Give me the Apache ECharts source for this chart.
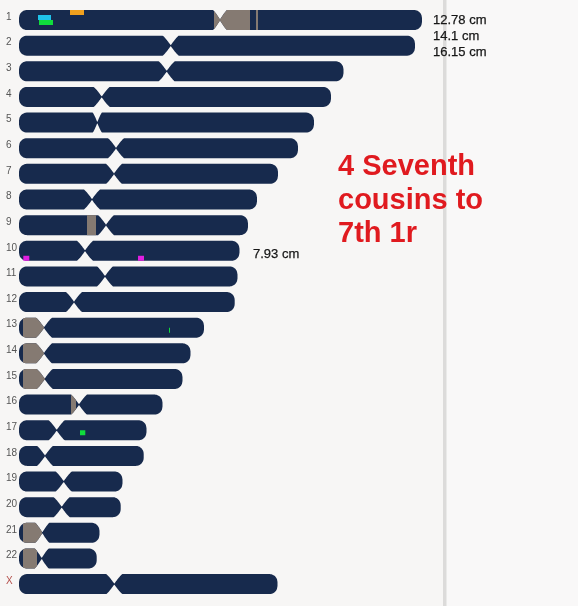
<!DOCTYPE html>
<html>
<head>
<meta charset="utf-8">
<title>Seventh cousins</title>
<script src="https://cdn.jsdelivr.net/npm/echarts@6/dist/echarts.min.js"></script>
<style>
  html, body { margin: 0; padding: 0; background: #f7f6f5; }
  #chart_container { width: 578px; height: 606px; }
</style>
</head>
<body>
<div id="chart_container"></div>
<script>
"use strict";

// chromosome table (x unit = 1 px from the p-end)
const chromosomes = ['1','2','3','4','5','6','7','8','9','10','11','12','13','14','15','16','17','18','19','20','21','22','X'];
const lengths     = [403,396,324.5,312,295,279,259,238,229,220.5,218.5,215.7,185,171.5,163.5,143.5,127.5,124.7,103.5,101.7,80.5,77.7,258.5];
const centromeres = [201,151.7,147.7,82.7,78.3,97,95,73,87,66,86,55,25,25,25.7,60,37.7,26,44.7,42.7,23.3,22.7,95.3];
const pinchWidths = [7,8,8,8,4.5,8,8,8,8,8,8,8,8,8,8,8,8,8,8,8,7,7,8];

// grey heterochromatin: [chromosome index, start, end]
const greyBands = [[0,195,231],[0,237,239],[8,68,77],[12,4,25],[13,4,25],[14,4,26],[15,52,57],[20,4,23],[21,4,18]];

// matched segments per cousin: [chromosome index, start, end, lane]
const blueSegments    = [[0,19,32,1]];
const greenSegments   = [[0,20,34,2],[12,150,151,2],[16,61,66.3,2]];
const orangeSegments  = [[0,51,65,0]];
const magentaSegments = [[9,4.3,10.3,3],[9,119,125,3]];

const cmLabels = [['12.78 cm',433,20],['14.1 cm',433,36],['16.15 cm',433,52],['7.93 cm',253,254]];
const noteLines = ['4 Seventh','cousins to','7th 1r'];

const HALF = 10;
const CAP = 8;
const WAIST = 0.4;

// half height of the chromosome body at position x
function halfHeight(row, x) {
    let len = lengths[row];
    let h = HALF;
    let edge = Math.min(x, len - x);
    if (edge < CAP) {
        let d = CAP - edge;
        h = HALF - CAP + Math.sqrt(Math.max(0, CAP * CAP - d * d));
    }
    let w = pinchWidths[row];
    let t = Math.abs(x - centromeres[row]) / w;
    if (t < 1) {
        // straight arm from the waist, eased into the shoulder
        h = Math.min(h, WAIST + (HALF - WAIST) * t * (1.15 - 0.15 * t * t));
    }
    return h;
}

function outline(api, row, from, to) {
    let top = [];
    let bottom = [];
    for (let x = from; x < to; x += 0.5) {
        let p = api.coord([x, row]);
        let h = halfHeight(row, x);
        top.push([p[0], p[1] - h]);
        bottom.unshift([p[0], p[1] + h]);
    }
    let p = api.coord([to, row]);
    let h = halfHeight(row, to);
    top.push([p[0], p[1] - h]);
    bottom.unshift([p[0], p[1] + h]);
    return top.concat(bottom);
}

let bodyItem = (params, api) => ({
    type: 'polygon',
    shape: { points: outline(api, api.value(0), 0, api.value(1)) },
    style: { fill: '#172a4d' }
});

let bandItem = (params, api) => ({
    type: 'polygon',
    shape: { points: outline(api, api.value(0), api.value(1), api.value(2)) },
    style: { fill: '#857a72' }
});

let segmentItem = (color) => (params, api) => {
    let a = api.coord([api.value(1), api.value(0)]);
    let b = api.coord([api.value(2), api.value(0)]);
    return {
        type: 'rect',
        shape: { x: a[0], y: a[1] - HALF + api.value(3) * 5, width: b[0] - a[0], height: 5 },
        style: { fill: color }
    };
};

function segmentSeries(name, color, data) {
    return { name: name, type: 'custom', renderItem: segmentItem(color), data: data, z: 5, clip: false };
}

let pageLoaded = () => {
    let graphics = [
        { type: 'rect', z: 0, silent: true, shape: { x: 446, y: 0, width: 132, height: 606 }, style: { fill: '#f9f8f8' } },
        { type: 'rect', z: 0, silent: true, shape: { x: 443, y: 0, width: 3.5, height: 606 }, style: { fill: '#dcdbda' } }
    ];
    cmLabels.forEach(l => {
        graphics.push({
            type: 'text', z: 10, x: l[1], y: l[2], silent: true,
            style: {
                text: l[0], fill: '#161616', stroke: '#161616', lineWidth: 0.25,
                font: '13px "Liberation Sans"', textVerticalAlign: 'middle'
            }
        });
    });
    noteLines.forEach((t, i) => {
        graphics.push({
            type: 'text', z: 10, x: 338, y: 167 + i * 33.5, silent: true,
            style: { text: t, fill: '#e01a1f', font: 'bold 29px "Liberation Sans"', textVerticalAlign: 'middle' }
        });
    });

    let myChart = echarts.init(document.getElementById('chart_container'));
    myChart.setOption({
        animation: false,
        backgroundColor: '#f7f6f5',
        grid: { left: 19, right: 0, top: 7.2, bottom: 9.1 },
        xAxis: { type: 'value', min: 0, max: 559, show: false },
        yAxis: {
            type: 'category',
            inverse: true,
            data: chromosomes,
            axisLine: { show: false },
            axisTick: { show: false },
            splitLine: { show: false },
            axisLabel: {
                interval: 0,
                margin: 13,
                align: 'left',
                verticalAlign: 'bottom',
                lineHeight: 6,
                fontFamily: 'Liberation Sans',
                fontSize: 10,
                color: (v) => v === 'X' ? '#b5504c' : '#555555'
            }
        },
        graphic: graphics,
        series: [
            {
                name: 'chromosomes', type: 'custom', z: 2, clip: false,
                renderItem: bodyItem,
                data: chromosomes.map((c, i) => [i, lengths[i]])
            },
            { name: 'grey', type: 'custom', z: 3, clip: false, renderItem: bandItem, data: greyBands },
            segmentSeries('cousin orange', '#f0a01e', orangeSegments),
            segmentSeries('cousin blue', '#1fc3ea', blueSegments),
            segmentSeries('cousin green', '#10dc3c', greenSegments),
            segmentSeries('cousin magenta', '#e01fe0', magentaSegments)
        ]
    });
};

window.addEventListener('load', pageLoaded, false);
</script>
</body>
</html>
